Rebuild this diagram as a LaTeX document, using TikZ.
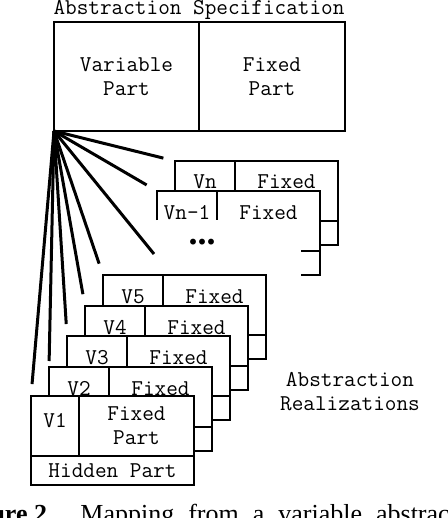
\documentclass[tikz,border=0pt]{standalone}
\usepackage{fontspec}
\setmainfont{Liberation Serif}
\usepackage{tikz}
\usetikzlibrary{positioning}

\begin{document}
\begin{tikzpicture}[x=0.5pt, y=-0.5pt,
    every node/.style={font=\ttfamily\fontsize{11.3pt}{12pt}\selectfont},
    cell/.style={draw, fill=white, line width=1pt, outer sep=0pt, inner sep=0pt, minimum height=30pt, text height=14pt, text depth=16pt},
    varcell/.style={cell, minimum width=30pt},
    fixcell/.style={cell, minimum width=51.5pt},
    hidcell/.style={draw, fill=white, line width=1pt, outer sep=0pt, inner sep=0pt, minimum width=81.5pt, minimum height=12pt},
    ghost/.style={draw=none},
    specbox/.style={draw, line width=1pt, outer sep=0pt, minimum height=54.5pt, align=center},
    fan/.style={line width=1.5pt, shorten >=6pt}]
            \clip (0,0) rectangle (448,518);

            % Specification
            \node[anchor=base] (spectitle) at (199,15) {Abstraction Specification};
            \node[specbox, minimum width=72.5pt, anchor=north west] at (54,22) (specvar) {Variable\\Part};
            \node[specbox, minimum width=73pt, right=0pt of specvar] (specfix) {Fixed\\Part};
            \coordinate (fanroot) at (specvar.south west);

            % Vn
            \node[varcell, anchor=north west] at (175,161) (vn) {Vn};
            \node[fixcell, right=0pt of vn] (fn) {Fixed};
            \node[hidcell, below right=0pt and 0pt of vn.south west] (hn) {};

            % Vn-1, fading out
            \node[varcell, ghost, anchor=north west] at (157,191) (vnm) {Vn-1};
            \node[fixcell, ghost, right=0pt of vnm] (fnm) {Fixed};
            \node[hidcell, ghost, below right=0pt and 0pt of vnm.south west] (hnm) {};
            \draw[line width=1pt] (vnm.north west) ++(0,29) -- (vnm.north west) -- (fnm.north east) -- (hnm.south east) -- ++(-19,0);
            \draw[line width=1pt] (vnm.north east) -- ++(0,29);
            \draw[line width=1pt] (hnm.north east) -- ++(-19,0);
            \node[font=\rmfamily\bfseries\fontsize{18pt}{18pt}\selectfont] at (202,242) (dots) {...};
            \coordinate (dotsend) at (154,254);

            % V5
            \node[varcell, anchor=north west] at (103,275) (v5) {V5};
            \node[fixcell, right=0pt of v5] (f5) {Fixed};
            \node[hidcell, below right=0pt and 0pt of v5.south west] (h5) {};

            % V4
            \node[varcell, anchor=north west] at (85,306) (v4) {V4};
            \node[fixcell, right=0pt of v4] (f4) {Fixed};
            \node[hidcell, below right=0pt and 0pt of v4.south west] (h4) {};

            % V3
            \node[varcell, anchor=north west] at (67,336) (v3) {V3};
            \node[fixcell, right=0pt of v3] (f3) {Fixed};
            \node[hidcell, below right=0pt and 0pt of v3.south west] (h3) {};

            % V2
            \node[varcell, anchor=north west] at (49,367) (v2) {V2};
            \node[fixcell, right=0pt of v2] (f2) {Fixed};
            \node[hidcell, below right=0pt and 0pt of v2.south west] (h2) {};

            % V1
            \node[cell, minimum width=24pt, text height=15.5pt, text depth=14.5pt, anchor=north west] at (31,396) (v1) {V1};
            \node[draw, fill=white, line width=1pt, outer sep=0pt, minimum width=57.5pt, minimum height=30pt, align=center, right=0pt of v1] (f1) {Fixed\\Part};
            \node[hidcell, minimum height=14.5pt, below right=0pt and 0pt of v1.south west] (h1) {Hidden Part};

            % Fan of mappings
            \draw[fan] (fanroot) -- (vn.north west);
            \draw[fan] (fanroot) -- (vnm.north west);
            \draw[fan, shorten >=0pt] (fanroot) -- (dotsend);
            \draw[fan] (fanroot) -- (v5.north west);
            \draw[fan] (fanroot) -- (v4.north west);
            \draw[fan] (fanroot) -- (v3.north west);
            \draw[fan, shorten >=3pt] (fanroot) -- (v2.north west);
            \draw[fan] (fanroot) -- (v1.north west);

            \node[align=center] at (350,392) (realiz) {Abstraction\\Realizations};

            % Caption
            \node[font={\rmfamily\bfseries\fontsize{13pt}{15pt}\selectfont}, anchor=base east, inner xsep=0pt] at (54,522) (capnum) {Figure 2.};
            \node[font={\rmfamily\fontsize{13pt}{15pt}\selectfont\spaceskip=7pt plus 1pt}, anchor=base west, inner xsep=0pt] at (80,522) (captext) {Mapping from a variable abstraction};
        \end{tikzpicture}
\end{document}
